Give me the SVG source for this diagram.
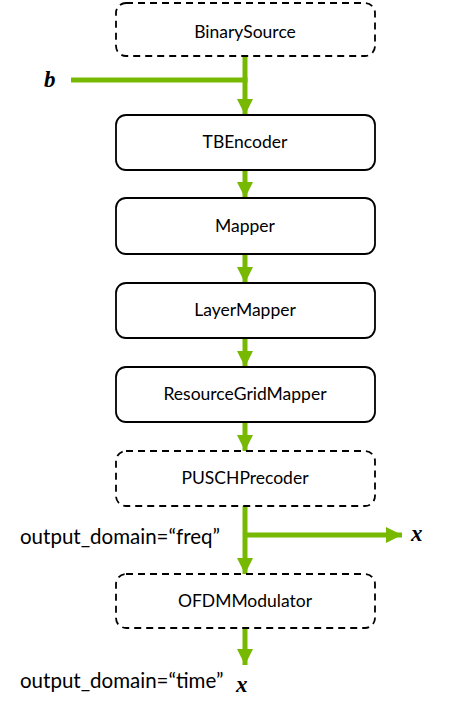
<svg xmlns="http://www.w3.org/2000/svg" width="474" height="706" viewBox="0 0 474 706">
<style>
.box{fill:#fff;stroke:#000;stroke-width:1.8}
.dash{stroke-dasharray:7,5}
.lbl{font-family:Lato,"DejaVu Sans",sans-serif;font-size:17.5px;fill:#000;text-anchor:middle}
.side{font-family:Lato,"DejaVu Sans",sans-serif;font-size:20.5px;fill:#000}
.math{font-family:"Liberation Serif",serif;font-size:23px;font-weight:bold;font-style:italic;fill:#000}
.wire{stroke:#76b900;stroke-width:5;fill:none}
</style>
<defs>
<marker id="ah" markerUnits="userSpaceOnUse" markerWidth="16" markerHeight="16" refX="16" refY="8" orient="auto">
<path d="M0,0 L16,8 L0,16 Z" fill="#76b900"/>
</marker>
</defs>
<g id="connectors">
<line class="wire" x1="245" y1="56" x2="245" y2="115" marker-end="url(#ah)"/>
<line class="wire" x1="71" y1="80" x2="247.5" y2="80"/>
<line class="wire" x1="245" y1="170" x2="245" y2="198" marker-end="url(#ah)"/>
<line class="wire" x1="245" y1="254" x2="245" y2="283" marker-end="url(#ah)"/>
<line class="wire" x1="245" y1="338" x2="245" y2="367" marker-end="url(#ah)"/>
<line class="wire" x1="245" y1="422" x2="245" y2="451" marker-end="url(#ah)"/>
<line class="wire" x1="245" y1="506" x2="245" y2="574" marker-end="url(#ah)"/>
<line class="wire" x1="245" y1="535" x2="402" y2="535" marker-end="url(#ah)"/>
<line class="wire" x1="245" y1="628" x2="245" y2="665" marker-end="url(#ah)"/>
</g>
<g id="BinarySource"><rect class="box dash" x="116" y="3" width="259" height="53" rx="10"/><text class="lbl" x="245" y="38">BinarySource</text></g>
<g id="TBEncoder"><rect class="box" x="116" y="115" width="259" height="55" rx="10"/><text class="lbl" x="245" y="148">TBEncoder</text></g>
<g id="Mapper"><rect class="box" x="116" y="198" width="259" height="56" rx="10"/><text class="lbl" x="245" y="232">Mapper</text></g>
<g id="LayerMapper"><rect class="box" x="116" y="283" width="259" height="55" rx="10"/><text class="lbl" x="245" y="316">LayerMapper</text></g>
<g id="ResourceGridMapper"><rect class="box" x="116" y="367" width="259" height="55" rx="10"/><text class="lbl" x="245" y="400">ResourceGridMapper</text></g>
<g id="PUSCHPrecoder"><rect class="box dash" x="116" y="451" width="259" height="55" rx="10"/><text class="lbl" x="245" y="484">PUSCHPrecoder</text></g>
<g id="OFDMModulator"><rect class="box dash" x="116" y="574" width="259" height="54" rx="10"/><text class="lbl" x="245" y="607">OFDMModulator</text></g>
<g id="labels">
<text class="math" x="44" y="87">b</text>
<text class="math" x="411" y="541">x</text>
<text class="math" x="236" y="692">x</text>
<text class="side" x="20" y="544">output_domain=“freq”</text>
<text class="side" x="20" y="688">output_domain=“time”</text>
</g>
</svg>
